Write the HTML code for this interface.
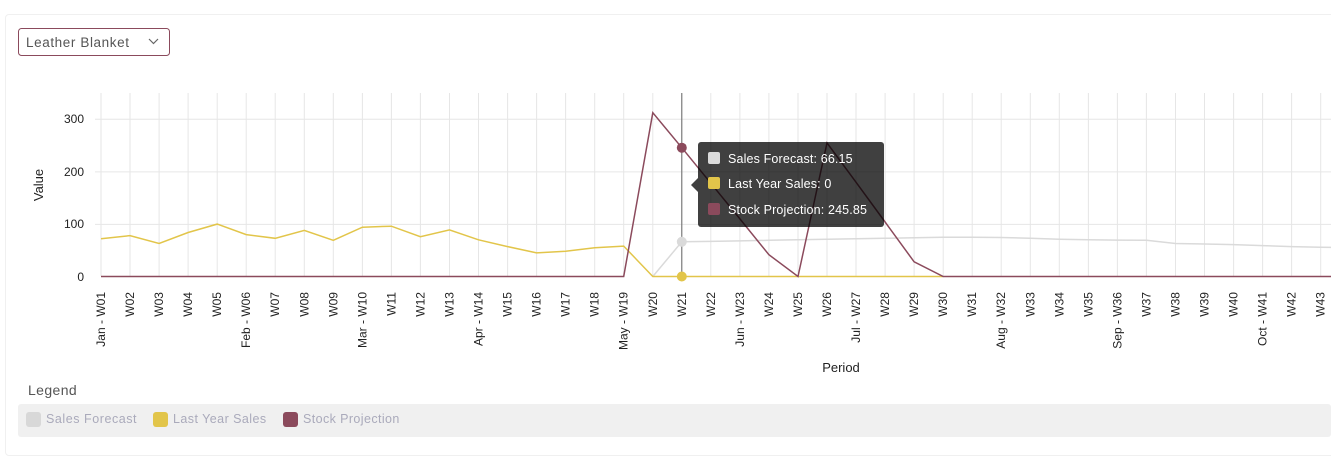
<!DOCTYPE html>
<html><head><meta charset="utf-8"><style>
body{margin:0;background:#fff;font-family:"Liberation Sans",sans-serif;}
</style></head><body>
<div style="position:absolute;left:5px;top:14px;width:1340px;height:440px;border:1px solid #f0f0f0;border-radius:4px;background:#fff;"></div>
<svg width="1331" height="459" style="position:absolute;left:0;top:0" font-family="Liberation Sans, sans-serif">
<rect x="18.5" y="28.5" width="151" height="27" rx="3" fill="#fff" stroke="#8b4a5c" stroke-width="1"/>
<text x="26" y="47" font-size="13.5" fill="#555" letter-spacing="0.6">Leather Blanket</text>
<path d="M149 39 l4.5 4.5 l4.5 -4.5" fill="none" stroke="#666" stroke-width="1.2"/>
<g stroke="#e6e6e6" stroke-width="1">
<line x1="95" x2="1331" y1="119.3" y2="119.3"/><line x1="95" x2="1331" y1="171.9" y2="171.9"/><line x1="95" x2="1331" y1="224.4" y2="224.4"/>
<path d="M101 93V276M130 93V276M159.1 93V276M188.1 93V276M217.2 93V276M246.2 93V276M275.2 93V276M304.3 93V276M333.3 93V276M362.4 93V276M391.4 93V276M420.4 93V276M449.5 93V276M478.5 93V276M507.6 93V276M536.6 93V276M565.6 93V276M594.7 93V276M623.7 93V276M652.8 93V276M681.8 93V276M710.8 93V276M739.9 93V276M768.9 93V276M798 93V276M827 93V276M856 93V276M885.1 93V276M914.1 93V276M943.2 93V276M972.2 93V276M1001.2 93V276M1030.3 93V276M1059.3 93V276M1088.4 93V276M1117.4 93V276M1146.4 93V276M1175.5 93V276M1204.5 93V276M1233.6 93V276M1262.6 93V276M1291.6 93V276M1320.7 93V276"/>
</g>
<g font-size="12" fill="#222" text-anchor="end">
<text x="84" y="123">300</text><text x="84" y="176">200</text><text x="84" y="228">100</text><text x="84" y="281">0</text>
</g>
<text transform="translate(43,185) rotate(-90)" font-size="13" fill="#222" text-anchor="middle">Value</text>
<g font-size="12" fill="#222" text-anchor="end">
<text transform="translate(105,292) rotate(-90)">Jan - W01</text>
<text transform="translate(134,292) rotate(-90)">W02</text>
<text transform="translate(163.1,292) rotate(-90)">W03</text>
<text transform="translate(192.1,292) rotate(-90)">W04</text>
<text transform="translate(221.2,292) rotate(-90)">W05</text>
<text transform="translate(250.2,292) rotate(-90)">Feb - W06</text>
<text transform="translate(279.2,292) rotate(-90)">W07</text>
<text transform="translate(308.3,292) rotate(-90)">W08</text>
<text transform="translate(337.3,292) rotate(-90)">W09</text>
<text transform="translate(366.4,292) rotate(-90)">Mar - W10</text>
<text transform="translate(395.4,292) rotate(-90)">W11</text>
<text transform="translate(424.4,292) rotate(-90)">W12</text>
<text transform="translate(453.5,292) rotate(-90)">W13</text>
<text transform="translate(482.5,292) rotate(-90)">Apr - W14</text>
<text transform="translate(511.6,292) rotate(-90)">W15</text>
<text transform="translate(540.6,292) rotate(-90)">W16</text>
<text transform="translate(569.6,292) rotate(-90)">W17</text>
<text transform="translate(598.7,292) rotate(-90)">W18</text>
<text transform="translate(627.7,292) rotate(-90)">May - W19</text>
<text transform="translate(656.8,292) rotate(-90)">W20</text>
<text transform="translate(685.8,292) rotate(-90)">W21</text>
<text transform="translate(714.8,292) rotate(-90)">W22</text>
<text transform="translate(743.9,292) rotate(-90)">Jun - W23</text>
<text transform="translate(772.9,292) rotate(-90)">W24</text>
<text transform="translate(802,292) rotate(-90)">W25</text>
<text transform="translate(831,292) rotate(-90)">W26</text>
<text transform="translate(860,292) rotate(-90)">Jul - W27</text>
<text transform="translate(889.1,292) rotate(-90)">W28</text>
<text transform="translate(918.1,292) rotate(-90)">W29</text>
<text transform="translate(947.2,292) rotate(-90)">W30</text>
<text transform="translate(976.2,292) rotate(-90)">W31</text>
<text transform="translate(1005.2,292) rotate(-90)">Aug - W32</text>
<text transform="translate(1034.3,292) rotate(-90)">W33</text>
<text transform="translate(1063.3,292) rotate(-90)">W34</text>
<text transform="translate(1092.4,292) rotate(-90)">W35</text>
<text transform="translate(1121.4,292) rotate(-90)">Sep - W36</text>
<text transform="translate(1150.4,292) rotate(-90)">W37</text>
<text transform="translate(1179.5,292) rotate(-90)">W38</text>
<text transform="translate(1208.5,292) rotate(-90)">W39</text>
<text transform="translate(1237.6,292) rotate(-90)">W40</text>
<text transform="translate(1266.6,292) rotate(-90)">Oct - W41</text>
<text transform="translate(1295.6,292) rotate(-90)">W42</text>
<text transform="translate(1324.7,292) rotate(-90)">W43</text>
</g>
<text x="841" y="372" font-size="13" fill="#222" text-anchor="middle">Period</text>
<line x1="681.8" x2="681.8" y1="93" y2="276.5" stroke="#666" stroke-width="1"/>
<polyline fill="none" stroke="#dadada" stroke-width="1.5" points="652.8,276.5 681.8,241.8 710.8,241.4 739.9,240.9 768.9,240.3 798,239.8 827,239.3 856,238.8 885.1,238.3 914.1,237.7 943.2,237.2 972.2,237.2 1001.2,237.5 1030.3,238.3 1059.3,239.3 1088.4,239.8 1117.4,240.1 1146.4,240.3 1175.5,243.5 1204.5,244 1233.6,244.6 1262.6,245.6 1291.6,246.6 1320.7,247.2 1331,247.4"/>
<polyline fill="none" stroke="#e2c54a" stroke-width="1.5" points="101,238.8 130,235.6 159.1,243.5 188.1,232.5 217.2,224.1 246.2,234.6 275.2,238.3 304.3,230.4 333.3,240.3 362.4,227.2 391.4,226.2 420.4,236.7 449.5,229.9 478.5,239.8 507.6,246.6 536.6,252.9 565.6,251.3 594.7,247.7 623.7,246.1 652.8,276.5 943.2,276.5"/>
<polyline fill="none" stroke="#8b4a5c" stroke-width="1.5" points="101,276.5 623.7,276.5 652.8,112.7 681.8,147.7 710.8,183.2 739.9,218.9 768.9,254.7 798,276.5 827,142.9 856,182.2 885.1,222 914.1,261.8 943.2,276.5 1331,276.5"/>
<circle cx="681.8" cy="241.8" r="5" fill="#dadada"/>
<circle cx="681.8" cy="276.5" r="5" fill="#e2c54a"/>
<circle cx="681.8" cy="147.7" r="5" fill="#8b4a5c"/>
<g>
<rect x="698" y="142" width="186" height="85" rx="3" fill="#000" fill-opacity="0.75"/>
<path d="M698 178 l-7 7 l7 7z" fill="#000" fill-opacity="0.75"/>
<rect x="708" y="152" width="12" height="12" rx="2" fill="#dadada"/>
<rect x="708" y="177" width="12" height="12" rx="2" fill="#e2c54a"/>
<rect x="708" y="203" width="12" height="12" rx="2" fill="#8b4a5c"/>
<g font-size="12.5" fill="#fff" letter-spacing="0.15">
<text x="728" y="163">Sales Forecast: 66.15</text>
<text x="728" y="188">Last Year Sales: 0</text>
<text x="728" y="214">Stock Projection: 245.85</text>
</g>
</g>
<text x="28" y="395" font-size="14" fill="#555" letter-spacing="0.4">Legend</text>
<rect x="18" y="404" width="1313" height="33" rx="3" fill="#f0f0f0"/>
<rect x="26" y="412" width="15" height="15" rx="3" fill="#d8d8d8"/>
<text x="46" y="423" font-size="12.5" fill="#aab" letter-spacing="0.55">Sales Forecast</text>
<rect x="153" y="412" width="15" height="15" rx="3" fill="#e2c54a"/>
<text x="173" y="423" font-size="12.5" fill="#aab" letter-spacing="0.45">Last Year Sales</text>
<rect x="283" y="412" width="15" height="15" rx="3" fill="#8b4a5c"/>
<text x="303" y="423" font-size="12.5" fill="#aab" letter-spacing="0.4">Stock Projection</text>
</svg>
</body></html>
